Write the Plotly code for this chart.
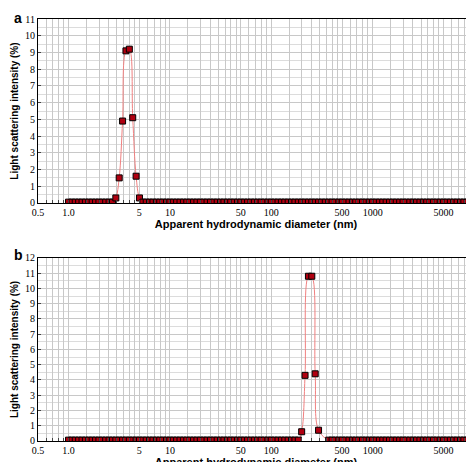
import numpy as np
import plotly.graph_objects as go
from plotly.subplots import make_subplots

# size bins (instrument log-spaced bins, 1 nm .. 10000 nm)
diam = list(np.round(10 ** (np.arange(121) / 30.0), 3))

int_a = [0.0]*121
peak_a_idx = [14, 15, 16, 17, 18, 19, 20, 21]
peak_a_val = [0.3, 1.5, 4.9, 9.1, 9.2, 5.1, 1.6, 0.3]
for i, v in zip(peak_a_idx, peak_a_val):
    int_a[i] = v

int_b = [0.0]*121
peak_b_idx = [69, 70, 71, 72, 73, 74]
peak_b_val = [0.6, 4.3, 10.8, 10.8, 4.4, 0.7]
for i, v in zip(peak_b_idx, peak_b_val):
    int_b[i] = v
gap_b = [75, 76]

tick_major = [0.5, 1, 5, 10, 50, 100, 500, 1000, 5000, 10000]
tick_major_txt = ["0.5", "1.0", "5", "10", "50", "100", "500", "1000", "5000", "10000"]

fig = make_subplots(rows=2, cols=1)
mk = dict(symbol="square", size=6, color="#b00010", line=dict(color="black", width=1))
ln = dict(color="#f08080", width=1, shape="spline")

fig.add_trace(go.Scatter(x=diam, y=[v if v > 0 else 0.05 for v in int_a], mode="lines+markers",
                         marker=mk, line=ln, showlegend=False), row=1, col=1)
yb = [v if v > 0 else 0.05 for v in int_b]
xb = [d for i, d in enumerate(diam) if i not in gap_b]
yb = [y for i, y in enumerate(yb) if i not in gap_b]
fig.add_trace(go.Scatter(x=xb, y=yb, mode="lines+markers",
                         marker=mk, line=ln, showlegend=False), row=2, col=1)

grid_vals = []
for dec in [0.1, 1, 10, 100, 1000]:
    for m in [1, 1.5, 2, 2.5, 3, 3.5, 4, 4.5, 5, 6, 7, 8, 9]:
        v = round(dec*m, 4)
        if 0.5 <= v <= 10000:
            grid_vals.append(v)
grid_vals.append(10000)
grid_txt = [tick_major_txt[tick_major.index(v)] if v in tick_major else "" for v in grid_vals]

tf = dict(family="Liberation Serif", size=10, color="black")
for r, dom, ymax in [(1, [0.578, 0.976], 11), (2, [0.063, 0.459], 12)]:
    fig.update_xaxes(type="log", range=[np.log10(0.5), 4], tickvals=grid_vals, ticktext=grid_txt,
                     showgrid=True, gridcolor="#c8c8c8", gridwidth=1, ticks="inside", ticklen=3,
                     tickfont=tf, showline=True, linecolor="black", mirror=True, automargin=False,
                     title=dict(text="<b>Apparent hydrodynamic diameter (nm)</b>",
                                font=dict(family="Liberation Sans", size=11, color="black"), standoff=2),
                     row=r, col=1)
    fig.update_yaxes(range=[0, ymax], dtick=1, domain=dom, showgrid=True, gridcolor="#c8c8c8",
                     ticks="inside", ticklen=3, tickfont=tf, showline=True, linecolor="black", mirror=True,
                     automargin=False,
                     minor=dict(dtick=0.5, showgrid=True, gridcolor="#dcdcdc", ticks=""),
                     title=dict(text="<b>Light scattering intensity (%)</b>",
                                font=dict(family="Liberation Sans", size=10, color="black"), standoff=4),
                     zeroline=False, row=r, col=1)

fig.add_annotation(text="<b>a</b>", x=-0.06, y=1.0, xref="paper", yref="paper", showarrow=False,
                   font=dict(family="Liberation Sans", size=14, color="black"), xanchor="left", yanchor="top")
fig.add_annotation(text="<b>b</b>", x=-0.06, y=0.487, xref="paper", yref="paper", showarrow=False,
                   font=dict(family="Liberation Sans", size=14, color="black"), xanchor="left", yanchor="top")

fig.update_layout(width=474, height=462, margin=dict(l=30, r=8, t=0, b=0),
                  plot_bgcolor="white", paper_bgcolor="white")
fig.write_html("out.html")
